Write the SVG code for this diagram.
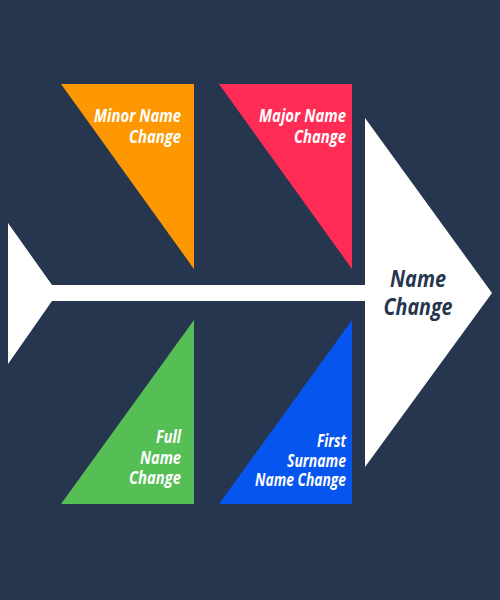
<svg xmlns="http://www.w3.org/2000/svg" width="500" height="600" viewBox="0 0 500 600">
<style>
.lbl{font-family:"Open Sans","Liberation Sans",sans-serif;font-weight:bold;font-style:italic;font-size:18px;fill:#ffffff;text-anchor:end}
.main{font-family:"Open Sans","Liberation Sans",sans-serif;font-weight:bold;font-style:italic;font-size:23px;fill:#26364f;text-anchor:middle}
</style>
<rect width="500" height="600" fill="#26364f"/>
<g id="connectors">
<polygon points="8,223 52,285 365,285 365,301 52,301 8,364" fill="#ffffff"/>
</g>
<g id="name-change">
<polygon points="365,118 492,293 365,467" fill="#ffffff"/>
<text class="main" x="418" y="287" textLength="56" lengthAdjust="spacingAndGlyphs">Name</text>
<text class="main" x="418" y="315" textLength="69" lengthAdjust="spacingAndGlyphs">Change</text>
</g>
<g id="minor-name-change">
<polygon points="61,84 194,84 194,269" fill="#fd9803"/>
<text class="lbl" x="181" y="122" textLength="87" lengthAdjust="spacingAndGlyphs">Minor Name</text>
<text class="lbl" x="181" y="143" textLength="52" lengthAdjust="spacingAndGlyphs">Change</text>
</g>
<g id="major-name-change">
<polygon points="219,84 352,84 352,269" fill="#ff2d55"/>
<text class="lbl" x="346" y="122" textLength="87" lengthAdjust="spacingAndGlyphs">Major Name</text>
<text class="lbl" x="346" y="143" textLength="52" lengthAdjust="spacingAndGlyphs">Change</text>
</g>
<g id="full-name-change">
<polygon points="194,320 194,504 61,504" fill="#55be55"/>
<text class="lbl" x="181" y="443" textLength="25" lengthAdjust="spacingAndGlyphs">Full</text>
<text class="lbl" x="181" y="464" textLength="41" lengthAdjust="spacingAndGlyphs">Name</text>
<text class="lbl" x="181" y="484" textLength="52" lengthAdjust="spacingAndGlyphs">Change</text>
</g>
<g id="first-surname-name-change">
<polygon points="352,320 352,504 219,504" fill="#0755ef"/>
<text class="lbl" x="346" y="447" textLength="29" lengthAdjust="spacingAndGlyphs">First</text>
<text class="lbl" x="346" y="467" textLength="59" lengthAdjust="spacingAndGlyphs">Surname</text>
<text class="lbl" x="346" y="486" textLength="91" lengthAdjust="spacingAndGlyphs">Name Change</text>
</g>
</svg>
